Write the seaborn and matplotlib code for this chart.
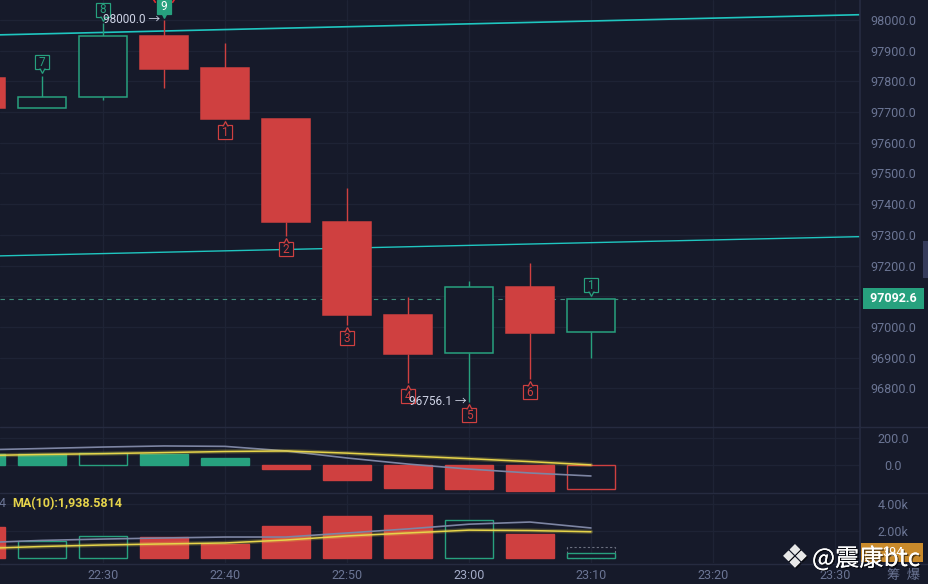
import matplotlib
matplotlib.use('Agg')
import matplotlib.pyplot as plt
import matplotlib.patheffects as pe
import seaborn as sns
import numpy as np
import pandas as pd
from matplotlib.transforms import offset_copy, blended_transform_factory
from matplotlib.patches import Rectangle
from matplotlib.lines import Line2D

# 5-minute candles
times = ['22:20', '22:25', '22:30', '22:35', '22:40', '22:45', '22:50', '22:55', '23:00', '23:05', '23:10']
opens = [97811, 97713, 97749, 97948, 97844, 97678, 97342, 97039, 96915, 97130, 96984]
highs = [97830, 97818, 97990, 98000.0, 97925, 97678, 97453, 97098, 97150, 97209, 97092.6]
lows = [97700, 97713, 97739, 97779, 97678, 97296, 97007, 96818, 96756.1, 96831, 96899]
closes = [97713, 97749, 97948, 97840, 97678, 97342, 97039, 96912, 97130, 96981, 97092.6]
seq_labels = ['', '7', '8', '9', '1', '2', '3', '4', '5', '6', '1']
seq_side = ['', 'up', 'up', 'up', 'down', 'down', 'down', 'down', 'down', 'down', 'up']

# macd panel
macd_hist = [85, 85, 87, 85, 52, -30, -111, -170, -178, -192, -178]
macd_hollow = [False, False, True, False, False, False, False, False, False, False, True]
dif = [112, 122, 133, 141, 138, 104, 52, 7, -30, -59, -81]
dea = [70, 78, 84, 92, 100, 104, 88, 67, 47, 25, 1]

# volume panel
volumes = [2300, 1260, 1630, 1550, 1040, 2370, 3110, 3180, 2810, 1780, 394]
vol_ma5 = [1130, 1300, 1400, 1480, 1550, 1550, 1850, 2150, 2500, 2660, 2220]
vol_ma10 = [700, 850, 960, 1040, 1110, 1330, 1630, 1850, 2060, 2030, 1938.5814]
vol_estimate = 810

# drawn trend lines
trend_times = ['22:21', '23:33']
trend_upper = [97951, 98018]
trend_lower = [97231, 97295]

xtick_labels = ['22:30', '22:40', '22:50', '23:00', '23:10', '23:20', '23:30']

sns.set_theme(style='dark')
plt.rcParams['font.family'] = ['Roboto', 'Noto Sans CJK SC', 'DejaVu Sans']

bg = '#161a2a'
grid = '#1e2335'
sep = '#262b40'
red = '#cf4040'
green = '#27a17e'
txt = '#6b7594'
cyan = '#1fc6c0'
yellow = '#e6d44a'
gray_line = '#7d85a3'


def to_min(s):
    h, m = s.split(':')
    return (int(h) - 22) * 60 + int(m)


df = pd.DataFrame({'t': [to_min(t) for t in times], 'open': opens, 'high': highs,
                   'low': lows, 'close': closes, 'hist': macd_hist, 'dif': dif, 'dea': dea,
                   'vol': volumes, 'ma5': vol_ma5, 'ma10': vol_ma10})
df['up'] = df['close'] >= df['open']

fig = plt.figure(figsize=(9.29, 5.84), dpi=100, facecolor=bg)
W = 0.9257
ax = fig.add_axes([0, 0.2688, W, 0.7312])
axm = fig.add_axes([0, 0.1558, W, 0.1130], sharex=ax)
axv = fig.add_axes([0, 0.0360, W, 0.1164], sharex=ax)

for a in (ax, axm, axv):
    a.set_facecolor(bg)
    a.grid(True, color=grid, lw=0.9)
    for s in a.spines.values():
        s.set_visible(False)
    a.spines['right'].set_visible(True)
    a.spines['right'].set_color(sep)
    a.yaxis.tick_right()
    a.tick_params(axis='y', length=0, pad=23.8, labelsize=9, labelcolor=txt)
    a.tick_params(axis='x', length=0)

bw = 3.95

# candles
for _, r in df.iterrows():
    col = green if r['up'] else red
    top, bot = max(r['open'], r['close']), min(r['open'], r['close'])
    ax.vlines(r['t'], top, r['high'], color=col, lw=1, zorder=3)
    ax.vlines(r['t'], r['low'], bot, color=col, lw=1, zorder=3)
    ax.bar(r['t'], top - bot, bottom=bot, width=bw, color=bg if r['up'] else col,
           edgecolor=col, linewidth=1.1, zorder=4)

# trend lines
tx = [to_min(t) for t in trend_times]
sns.lineplot(x=tx, y=trend_upper, ax=ax, color=cyan, lw=1.2, legend=False, zorder=2)
sns.lineplot(x=tx, y=trend_lower, ax=ax, color=cyan, lw=1.0, legend=False, zorder=2)

# current price
last = closes[-1]
ax.axhline(last, color='#3f8c7a', ls=(0, (4, 4)), lw=0.8, zorder=1)
ax.annotate(' %.1f ' % last, xy=(1, last), xycoords=('axes fraction', 'data'),
            xytext=(23.8, 0), textcoords='offset points', ha='center', va='center',
            color='white', fontsize=9, fontweight='bold', annotation_clip=False,
            bbox=dict(boxstyle='square,pad=0.33', fc=green, ec='none'))


def seq_mark(xi, yi, label, side, color, filled=False):
    sgn = 1 if side == 'up' else -1
    box_tr = offset_copy(ax.transData, fig=fig, x=0, y=sgn * 9.6, units='points')
    tri_tr = offset_copy(ax.transData, fig=fig, x=0, y=sgn * 3.9, units='points')
    fc = color if filled else bg
    ax.plot([xi], [yi], marker='s', ms=10.5, mfc=fc, mec=color, mew=0.9,
            transform=box_tr, zorder=6, clip_on=False)
    ax.plot([xi], [yi], marker='v' if sgn > 0 else '^', ms=4.5, mfc=fc, mec=color,
            mew=0.9, transform=tri_tr, zorder=6, clip_on=False)
    ax.plot([xi], [yi], marker='s', ms=8.8, mfc=fc, mec='none',
            transform=box_tr, zorder=7, clip_on=False)
    ax.text(xi, yi, label, transform=box_tr, ha='center', va='center', fontsize=8.5,
            color='white' if filled else color, zorder=8, clip_on=False)


for i, r in df.iterrows():
    lab = seq_labels[i]
    if not lab:
        continue
    if seq_side[i] == 'up':
        seq_mark(r['t'], r['high'], lab, 'up', green, filled=(lab == '9'))
    else:
        seq_mark(r['t'], r['low'], lab, 'down', red)

# red arrows around the "9" signal
i9 = seq_labels.index('9')
for dx in (-1, 1):
    tr = offset_copy(ax.transData, fig=fig, x=dx * 7, y=16, units='points')
    ax.annotate('', xy=(df['t'][i9], highs[i9]), xycoords=tr,
                xytext=(dx * 5, 3), textcoords='offset points',
                arrowprops=dict(arrowstyle='<-', color='#e0282e', lw=1.2), annotation_clip=False)

# high / low labels
ihi = int(np.argmax(highs))
ilo = int(np.argmin(lows))
ax.annotate('%.1f →' % highs[ihi], xy=(df['t'][ihi], highs[ihi]), xytext=(-3, 0),
            textcoords='offset points', ha='right', va='center', fontsize=8.5, color='#cfd4e6', zorder=9)
ax.annotate('%.1f →' % lows[ilo], xy=(df['t'][ilo], lows[ilo]), xytext=(-2, 0),
            textcoords='offset points', ha='right', va='center', fontsize=8.5, color='#cfd4e6', zorder=9)

ax.set_ylim(96674, 98065)
ax.set_yticks(np.arange(96800, 98001, 100))
ax.set_yticklabels(['%.1f' % v for v in np.arange(96800, 98001, 100)])

# macd
for _, r in df.iterrows():
    col = green if r['hist'] >= 0 else red
    hollow = macd_hollow[_]
    axm.bar(r['t'], r['hist'], width=bw, color=bg if hollow else col, edgecolor=col,
            linewidth=1.0, zorder=3)
sns.lineplot(x=df['t'], y=df['dif'], ax=axm, color=gray_line, lw=1.2, legend=False, zorder=4)
axm.plot(df['t'], df['dea'], color=yellow, lw=3, alpha=0.25, zorder=4)
sns.lineplot(x=df['t'], y=df['dea'], ax=axm, color=yellow, lw=1.1, legend=False, zorder=5)
axm.set_ylim(-207, 281)
axm.set_yticks([0, 200])
axm.set_yticklabels(['0.0', '200.0'])
axm.set_ylabel('')

# volume
for _, r in df.iterrows():
    col = green if r['up'] else red
    if _ == len(df) - 1:
        axv.bar(r['t'], vol_estimate, width=bw, color='none', edgecolor='#6b7080',
                linewidth=0.8, linestyle=(0, (2, 2)), zorder=2)
    axv.bar(r['t'], r['vol'], width=bw, color=bg if r['up'] else col, edgecolor=col,
            linewidth=1.0, zorder=3)
sns.lineplot(x=df['t'], y=df['ma5'], ax=axv, color=gray_line, lw=1.2, legend=False, zorder=4)
axv.plot(df['t'], df['ma10'], color=yellow, lw=3, alpha=0.25, zorder=4)
sns.lineplot(x=df['t'], y=df['ma10'], ax=axv, color=yellow, lw=1.1, legend=False, zorder=5)
axv.set_ylim(-370, 4660)
axv.set_yticks([2000, 4000])
axv.set_yticklabels(['2.00k', '4.00k'])
axv.set_ylabel('')
axv.text(-0.002, 0.88, '4', transform=axv.transAxes, ha='left', va='center',
         fontsize=9, color=txt)
axv.text(0.014, 0.88, 'MA(10):%s' % format(vol_ma10[-1], ',.4f'), transform=axv.transAxes,
         ha='left', va='center', fontsize=9, color=yellow, fontweight='bold')

# current volume box
btr = blended_transform_factory(axv.transAxes, axv.transData)
axv.add_patch(Rectangle((1.0015, volumes[-1] - 720), 62 / 860, 1440, transform=btr,
                        fc='#c98a2b', ec='none', clip_on=False, zorder=6))
axv.text(1 + 33 / 860, volumes[-1], str(volumes[-1]), transform=btr, ha='center', va='center',
         fontsize=9, color='white', zorder=7, clip_on=False)

# x axis
xt = [to_min(t) for t in xtick_labels]
axv.set_xticks(xt)
axv.set_xticklabels(xtick_labels)
axv.tick_params(axis='x', labelsize=9, labelcolor=txt, pad=4.5)
axv.get_xticklabels()[3].set_color('#a3abc7')
for a in (ax, axm):
    a.tick_params(axis='x', labelbottom=False)
    a.set_xlabel('')
axv.set_xlabel('')
ax.set_xlim(21.56, 92.05)

for lbl in ax.get_yticklabels() + axm.get_yticklabels() + axv.get_yticklabels():
    lbl.set_horizontalalignment('center')

# panel separators
for yy in (427, 493, 563.5):
    fig.add_artist(Line2D([0, 1], [1 - yy / 584, 1 - yy / 584], transform=fig.transFigure,
                          color=sep, lw=1))

# side tab
fig.patches.append(Rectangle((923 / 929, 1 - 278 / 584), 6 / 929, 37 / 584,
                             transform=fig.transFigure, fc='#353b5a', ec='none'))

fig.text(887 / 929, 1 - 576 / 584, '筹  爆', fontsize=9.5, color=txt, va='center', ha='left')

# watermark
shadow = [pe.withSimplePatchShadow(offset=(1, -1), shadow_rgbFace='black', alpha=0.6), pe.Normal()]
fig.text(795 / 929, 1 - 559 / 584, '❖', fontsize=23, color='#e8e8e8', ha='center', va='center',
         family=['DejaVu Sans'], zorder=20, path_effects=shadow)
fig.text(812 / 929, 1 - 559 / 584, '@震康btc', fontsize=17.5, color='white', ha='left',
         va='center', family=['Noto Sans CJK SC', 'DejaVu Sans'], zorder=20, path_effects=shadow)

fig.savefig('out.png', dpi=100, facecolor=bg)
